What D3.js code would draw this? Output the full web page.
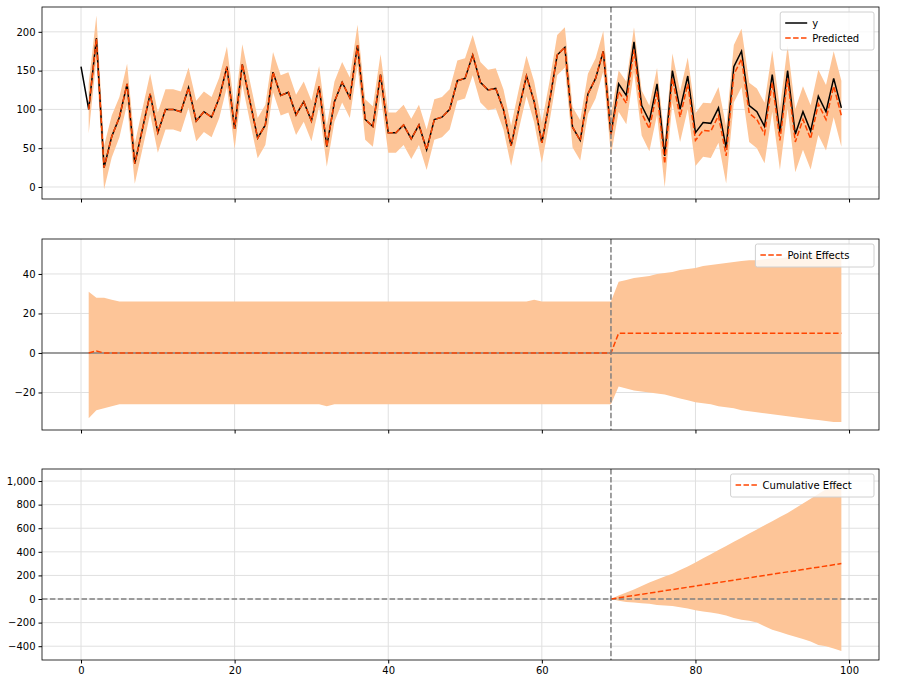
<!DOCTYPE html>
<html><head><meta charset="utf-8">
<script src="https://cdn.jsdelivr.net/npm/d3@7"></script>
<style>body{margin:0;background:#fff}text{font-family:"DejaVu Sans",sans-serif}</style>
</head><body><div id="vis"></div>
<script>
// observed series, t = 0..99
let yObs = [155,100,192,25,65,90,133,30,75,120,70,100,100,97,128,85,97,90,115,155,
  75,158,110,63,80,148,118,122,93,110,85,130,52,110,135,115,183,87,78,145,
  70,70,80,62,80,48,87,90,100,137,140,170,135,125,127,100,53,100,143,110,
  57,110,170,180,77,60,120,140,175,67,133,118,187,105,85,133,40,150,100,143,
  70,83,82,102,50,155,175,105,97,78,145,70,150,68,97,72,117,97,140,102]
// predicted, t = 1..99
let yPred = [100,191,25,65,90,133,30,75,120,70,100,100,97,128,85,97,90,115,155,
  75,158,110,63,80,148,118,122,93,110,85,130,52,110,135,115,183,87,78,145,
  70,70,80,62,80,48,87,90,100,137,140,170,135,125,127,100,53,100,143,110,
  57,110,170,180,77,60,120,140,175,67,123,108,177,95,75,123,30,140,90,133,
  60,73,72,92,40,145,165,95,87,68,135,60,140,58,87,62,107,87,130,92]
// point effect bounds, t = 1..99
let peUpper = [31,28,28,27,26,26,26,26,26,26,26,26,26,26,26,26,26,26,26,26,
  26,26,26,26,26,26,26,26,26,26,26,26,26,26,26,26,26,26,26,26,
  26,26,26,26,26,26,26,26,26,26,26,26,26,26,26,26,26,26,27,26,
  26,26,26,26,26,26,26,26,26,
  36,37,38,38.5,39,40,40.5,41,42,42.5,43,44,44.5,45,45.5,46,46.5,47,47,47.5,
  48,48,48.5,49,49,49.5,50,50,50,50]
let peLower = [-33,-29,-28,-27,-26,-26,-26,-26,-26,-26,-26,-26,-26,-26,-26,-26,-26,-26,-26,-26,
  -26,-26,-26,-26,-26,-26,-26,-26,-26,-26,-26,-27,-26,-26,-26,-26,-26,-26,-26,-26,
  -26,-26,-26,-26,-26,-26,-26,-26,-26,-26,-26,-26,-26,-26,-26,-26,-26,-26,-26,-26,
  -26,-26,-26,-26,-26,-26,-26,-26,-26,
  -17,-18,-19,-19.5,-20,-20.5,-21,-22,-23,-24,-25,-25.5,-26,-27,-27.5,-28,-29,-29.5,-30,-30.5,
  -31,-31.5,-32,-32.5,-33,-33.5,-34,-34.5,-35,-35]
// cumulative effect bounds, t = 69..99
let cumUpper = [0,30,55,80,110,140,165,190,215,245,275,310,345,380,415,450,485,520,555,590,
  625,660,695,730,770,810,850,890,930,970,1000]
let cumLower = [0,-15,-25,-30,-35,-40,-50,-55,-60,-70,-80,-95,-105,-115,-125,-140,-160,-175,-185,-200,
  -230,-260,-280,-300,-320,-340,-360,-390,-400,-420,-440]
let interventionT = 69
let xTicks = [0,20,40,60,80,100]

let rows = yPred.map((p, i) => {
  let t = i + 1
  return {t: t, y: yObs[t], pred: p, pe: yObs[t] - p,
    peLo: peLower[i], peHi: peUpper[i], lo: yObs[t] - peUpper[i], hi: yObs[t] - peLower[i]}
})
let cum = 0
let cumRows = []
rows.filter(d => d.t >= interventionT).forEach((d, i) => {
  if (d.t > interventionT) cum += d.pe
  cumRows.push({t: d.t, c: cum, lo: cumLower[i], hi: cumUpper[i]})
})

let W = 905, H = 691
let svg = d3.select('#vis').append('svg').attr('width', W).attr('height', H)
let x = d3.scaleLinear().domain([-5.08, 103.9]).range([42, 879])
let band = '#fdc598', predColor = '#ff4500'

let panels = [
  {top: 7, bottom: 199, dom: [-15.5, 232], ticks: [0,50,100,150,200]},
  {top: 239, bottom: 430, dom: [-39, 57.7], ticks: [-20,0,20,40]},
  {top: 469, bottom: 660, dom: [-517, 1102], ticks: [-400,-200,0,200,400,600,800,1000]}
]
panels.forEach((p, k) => {
  p.y = d3.scaleLinear().domain(p.dom).range([p.bottom, p.top])
  let g = svg.append('g')
  // grid
  g.selectAll('.gx').data(xTicks).join('line')
    .attr('x1', d => x(d)).attr('x2', d => x(d)).attr('y1', p.top).attr('y2', p.bottom)
    .attr('stroke', '#e0e0e0')
  g.selectAll('.gy').data(p.ticks).join('line')
    .attr('x1', 42).attr('x2', 879).attr('y1', d => p.y(d)).attr('y2', d => p.y(d))
    .attr('stroke', '#e0e0e0')
  p.g = g
  let ya = svg.append('g').attr('transform', 'translate(42,0)')
    .call(d3.axisLeft(p.y).tickValues(p.ticks).tickSize(3.5).tickPadding(3))
  let xa = svg.append('g').attr('transform', `translate(0,${p.bottom})`)
    .call(d3.axisBottom(x).tickValues(xTicks).tickSize(3.5).tickPadding(3)
      .tickFormat(k == 2 ? d3.format('d') : ''))
  ;[ya, xa].forEach(a => {
    a.select('.domain').remove()
    a.selectAll('text').attr('font-size', 10).attr('fill', '#000')
  })
})

let line = (sx, sy) => d3.line().x(d => x(d[0])).y(d => sy(d[1]))
let area = (sy) => d3.area().x(d => x(d[0])).y0(d => sy(d[1])).y1(d => sy(d[2]))

// panel 1
let p1 = panels[0]
p1.g.append('path').attr('d', area(p1.y)(rows.map(d => [d.t, d.lo, d.hi]))).attr('fill', band)
p1.g.append('path').attr('d', line(x, p1.y)(yObs.map((v, i) => [i, v])))
  .attr('fill', 'none').attr('stroke', '#000').attr('stroke-width', 1.5)
p1.g.append('path').attr('d', line(x, p1.y)(rows.map(d => [d.t, d.pred])))
  .attr('fill', 'none').attr('stroke', predColor).attr('stroke-width', 1.5).attr('stroke-dasharray', '5.5,2.4')

// panel 2
let p2 = panels[1]
p2.g.append('path').attr('d', area(p2.y)(rows.map(d => [d.t, d.peLo, d.peHi]))).attr('fill', band)
p2.g.append('line').attr('x1', 42).attr('x2', 879).attr('y1', p2.y(0)).attr('y2', p2.y(0))
  .attr('stroke', '#808080').attr('stroke-width', 1.5)
p2.g.append('path').attr('d', line(x, p2.y)(rows.map(d => [d.t, d.pe])))
  .attr('fill', 'none').attr('stroke', predColor).attr('stroke-width', 1.5).attr('stroke-dasharray', '5.5,2.4')

// panel 3
let p3 = panels[2]
p3.g.append('path').attr('d', area(p3.y)(cumRows.map(d => [d.t, d.lo, d.hi]))).attr('fill', band)
p3.g.append('line').attr('x1', 42).attr('x2', 879).attr('y1', p3.y(0)).attr('y2', p3.y(0))
  .attr('stroke', '#808080').attr('stroke-width', 1.5).attr('stroke-dasharray', '5.5,2.4')
p3.g.append('path').attr('d', line(x, p3.y)(cumRows.map(d => [d.t, d.c])))
  .attr('fill', 'none').attr('stroke', predColor).attr('stroke-width', 1.5).attr('stroke-dasharray', '5.5,2.4')

// intervention line, frames, legends
let legends = [[['y', '#000', null], ['Predicted', predColor, '5.5,2.4']],
  [['Point Effects', predColor, '5.5,2.4']], [['Cumulative Effect', predColor, '5.5,2.4']]]
panels.forEach((p, k) => {
  p.g.append('line').attr('x1', x(interventionT)).attr('x2', x(interventionT))
    .attr('y1', p.top).attr('y2', p.bottom)
    .attr('stroke', '#808080').attr('stroke-width', 1.5).attr('stroke-dasharray', '5.5,2.4')
  svg.append('rect').attr('x', 42).attr('y', p.top).attr('width', 837).attr('height', p.bottom - p.top)
    .attr('fill', 'none').attr('stroke', '#000').attr('stroke-width', 0.8)
  let items = legends[k]
  let textW = d3.max(items, d => d[0].length) * 6.2
  let lw = 38 + textW, lh = 8 + items.length * 15
  let lg = svg.append('g').attr('transform', `translate(${874 - lw},${p.top + 5})`)
  lg.append('rect').attr('width', lw).attr('height', lh).attr('rx', 2)
    .attr('fill', 'rgba(255,255,255,0.8)').attr('stroke', '#d0d0d0')
  items.forEach((it, i) => {
    let cy = 11 + i * 15
    lg.append('line').attr('x1', 5).attr('x2', 27).attr('y1', cy).attr('y2', cy)
      .attr('stroke', it[1]).attr('stroke-width', 1.5).attr('stroke-dasharray', it[2])
    lg.append('text').attr('x', 32).attr('y', cy + 3.5).attr('font-size', 10).text(it[0])
  })
})
</script></body></html>
